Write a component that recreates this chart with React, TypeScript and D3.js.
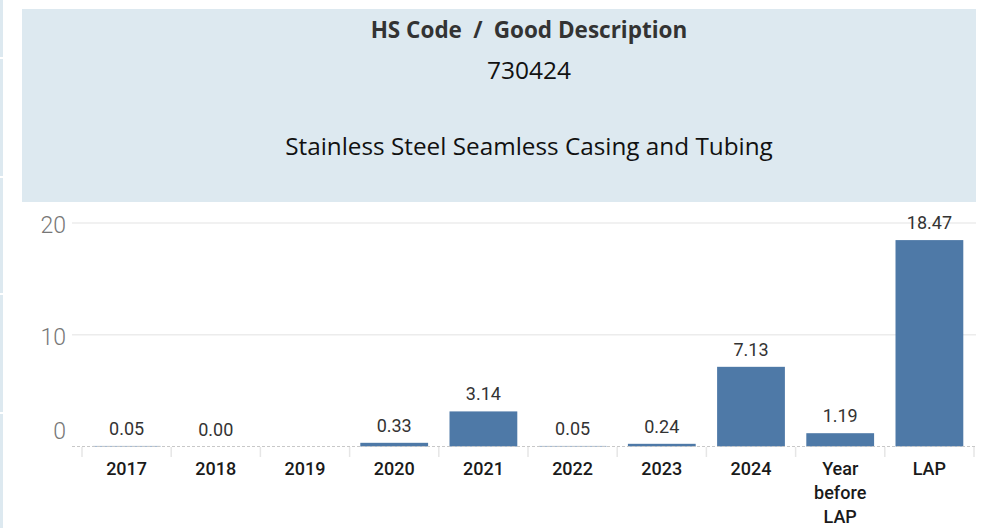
import React from "react";
import * as d3 from "d3";

const categories = ["2017", "2018", "2019", "2020", "2021", "2022", "2023", "2024", "Year before LAP", "LAP"];
const values: (number | null)[] = [0.05, 0.0, null, 0.33, 3.14, 0.05, 0.24, 7.13, 1.19, 18.47];
const yTicks = [0, 10, 20];
const titleParts = ["HS Code", "Good Description"];
const codeLine = "730424";
const descLine = "Stainless Steel Seamless Casing and Tubing";
const stripSegments: [number, number][] = [[0, 57], [59, 176], [178, 293], [295, 412], [414, 528]];

const W = 986;
const H = 528;
const BAR = "#4e79a7";
const PANEL = "#dde9f0";

export default function App() {
  const x = d3.scaleBand<string>().domain(categories).range([82, 974]).paddingInner(0.24).paddingOuter(0.12);
  const y = d3.scaleLinear().domain([0, 20]).range([446.5, 223]);
  const step = x.step();
  const tickXs = categories.map((c) => (x(c) as number) - step * 0.12).concat([974]);
  const labelFont = "Roboto, 'Noto Sans', sans-serif";
  const headFont = "'Open Sans', 'Noto Sans', sans-serif";

  return (
    <svg width={W} height={H} style={{ position: "fixed", left: 0, top: 0, background: "#fff" }}>
      {stripSegments.map(([a, b], i) => (
        <rect key={i} x={0} y={a} width={3} height={b - a} fill={PANEL} />
      ))}
      <rect x={22} y={9} width={954} height={193} fill={PANEL} />
      <text x={529} y={38} textAnchor="middle" fontFamily={headFont} fontWeight={700} fontSize={22.5} fill="#333">
        {titleParts[0] + "\u2002/\u2002" + titleParts[1]}
      </text>
      <text x={529} y={79} textAnchor="middle" fontFamily={headFont} fontSize={24.5} fill="#111">
        {codeLine}
      </text>
      <text x={529} y={155} textAnchor="middle" fontFamily={headFont} fontSize={24.3} fill="#111">
        {descLine}
      </text>

      {yTicks.filter((t) => t > 0).map((t) => (
        <line key={t} x1={72} x2={976} y1={y(t)} y2={y(t)} stroke="#ececec" strokeWidth={1.5} />
      ))}
      {yTicks.map((t) => (
        <text key={t} x={66} y={Math.min(y(t) + 10, 439)} textAnchor="end" fontFamily={labelFont} fontWeight={300}
          fontSize={23} fill="#777">
          {t}
        </text>
      ))}

      {categories.map((c, i) => {
        const v = values[i];
        if (v === null) return null;
        const bx = x(c) as number;
        const top = y(v);
        return (
          <g key={c}>
            <rect x={bx} y={top} width={x.bandwidth()} height={y(0) - top} fill={BAR} />
            <text x={bx + x.bandwidth() / 2} y={top - 11} textAnchor="middle" fontFamily={labelFont}
              fontSize={18} fill="#333">
              {v.toFixed(2)}
            </text>
          </g>
        );
      })}

      <line x1={72} x2={976} y1={y(0)} y2={y(0)} stroke="#c8c8c8" strokeWidth={1} strokeDasharray="3,2" />
      {tickXs.map((tx, i) => (
        <line key={i} x1={tx} x2={tx} y1={447} y2={457} stroke="#e6e6e6" strokeWidth={1.5} />
      ))}

      {categories.map((c) => {
        const cx = (x(c) as number) + x.bandwidth() / 2;
        const words = c === "Year before LAP" ? ["Year", "before", "LAP"] : [c];
        return (
          <text key={c} textAnchor="middle" fontFamily={labelFont} fontWeight={500} fontSize={18} fill="#1a1a1a">
            {words.map((w, k) => (
              <tspan key={k} x={cx} y={475 + k * 23.8}>{w}</tspan>
            ))}
          </text>
        );
      })}
    </svg>
  );
}
